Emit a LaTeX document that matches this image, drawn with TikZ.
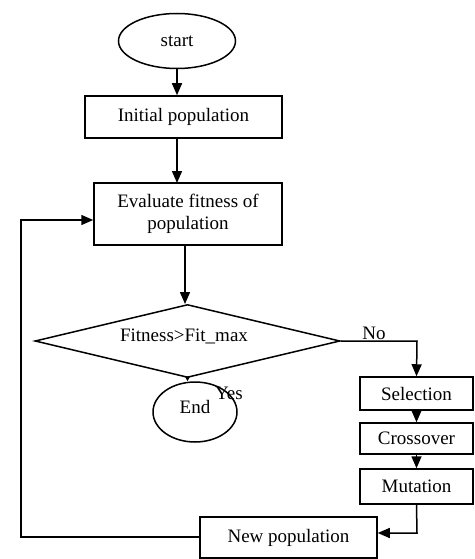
\documentclass[tikz,border=0pt]{standalone}
\usepackage{fontspec}
\setmainfont{Liberation Serif}
\usetikzlibrary{shapes.geometric,arrows.meta}
\begin{document}
\begin{tikzpicture}[x=1pt,y=-1pt,
  every node/.style={font=\fontsize{19}{22}\selectfont},
  box/.style={draw,line width=1.5pt,inner sep=0pt},
  oval/.style={draw,ellipse,line width=1.5pt,inner sep=0pt},
  dia/.style={draw,diamond,shape aspect=4.2,line width=1.5pt,inner sep=0pt},
  arr/.style={line width=1.5pt,-{Triangle[length=12pt,width=10pt]}},
  lbl/.style={inner sep=0pt}]
\useasboundingbox (0,0) rectangle (474,559);
\node[oval,minimum width=117pt,minimum height=55pt] (start) at (177,41) {start};
\node[box,minimum width=197pt,minimum height=42pt] (init) at (183.5,117) {Initial population};
\node[box,minimum width=188pt,minimum height=62pt,align=center] (eval) at (188,214) {Evaluate fitness of\\population};
\node[dia,minimum width=305pt,minimum height=73pt] (cond) at (187.5,341) {};
\node[lbl] (condtext) at (184,336) {Fitness>Fit\_max};
\node[oval,minimum width=84pt,minimum height=60pt] (end) at (195,412) {};
\node[lbl] (endtext) at (195,407) {End};
\node[box,minimum width=113pt,minimum height=33pt] (sel) at (416.5,393.5) {Selection};
\node[box,minimum width=113pt,minimum height=31pt] (cross) at (416.5,438.5) {Crossover};
\node[box,minimum width=113pt,minimum height=35pt] (mut) at (416.5,486.5) {Mutation};
\node[box,minimum width=177pt,minimum height=41pt] (newp) at (288.5,537.5) {New population};
\node[lbl] (yes) at (229,393) {Yes};
\node[lbl] (no) at (374,333) {No};
\coordinate (c1) at (417,341);
\coordinate (c2) at (417,533);
\coordinate (c3) at (21,537);
\coordinate (c4) at (21,220);
\draw[arr] (start.south) -- (start.south |- init.north);
\draw[arr] (177,138) -- (177,183);
\draw[arr] (185,245) -- (185,304);
\draw[line width=1.5pt,-{Triangle[length=5pt,width=5pt]}] (cond.south) -- (cond.south |- end.north);
\draw[arr] (cond.east) -- (c1) -- (sel.north);
\draw[arr] (sel.south) -- (cross.north);
\draw[arr] (cross.south) -- (mut.north);
\draw[arr] (mut.south) -- (c2) -- (newp.east |- c2);
\draw[arr] (newp.west |- c3) -- (c3) -- (c4) -- (eval.west |- c4);
\end{tikzpicture}
\end{document}
